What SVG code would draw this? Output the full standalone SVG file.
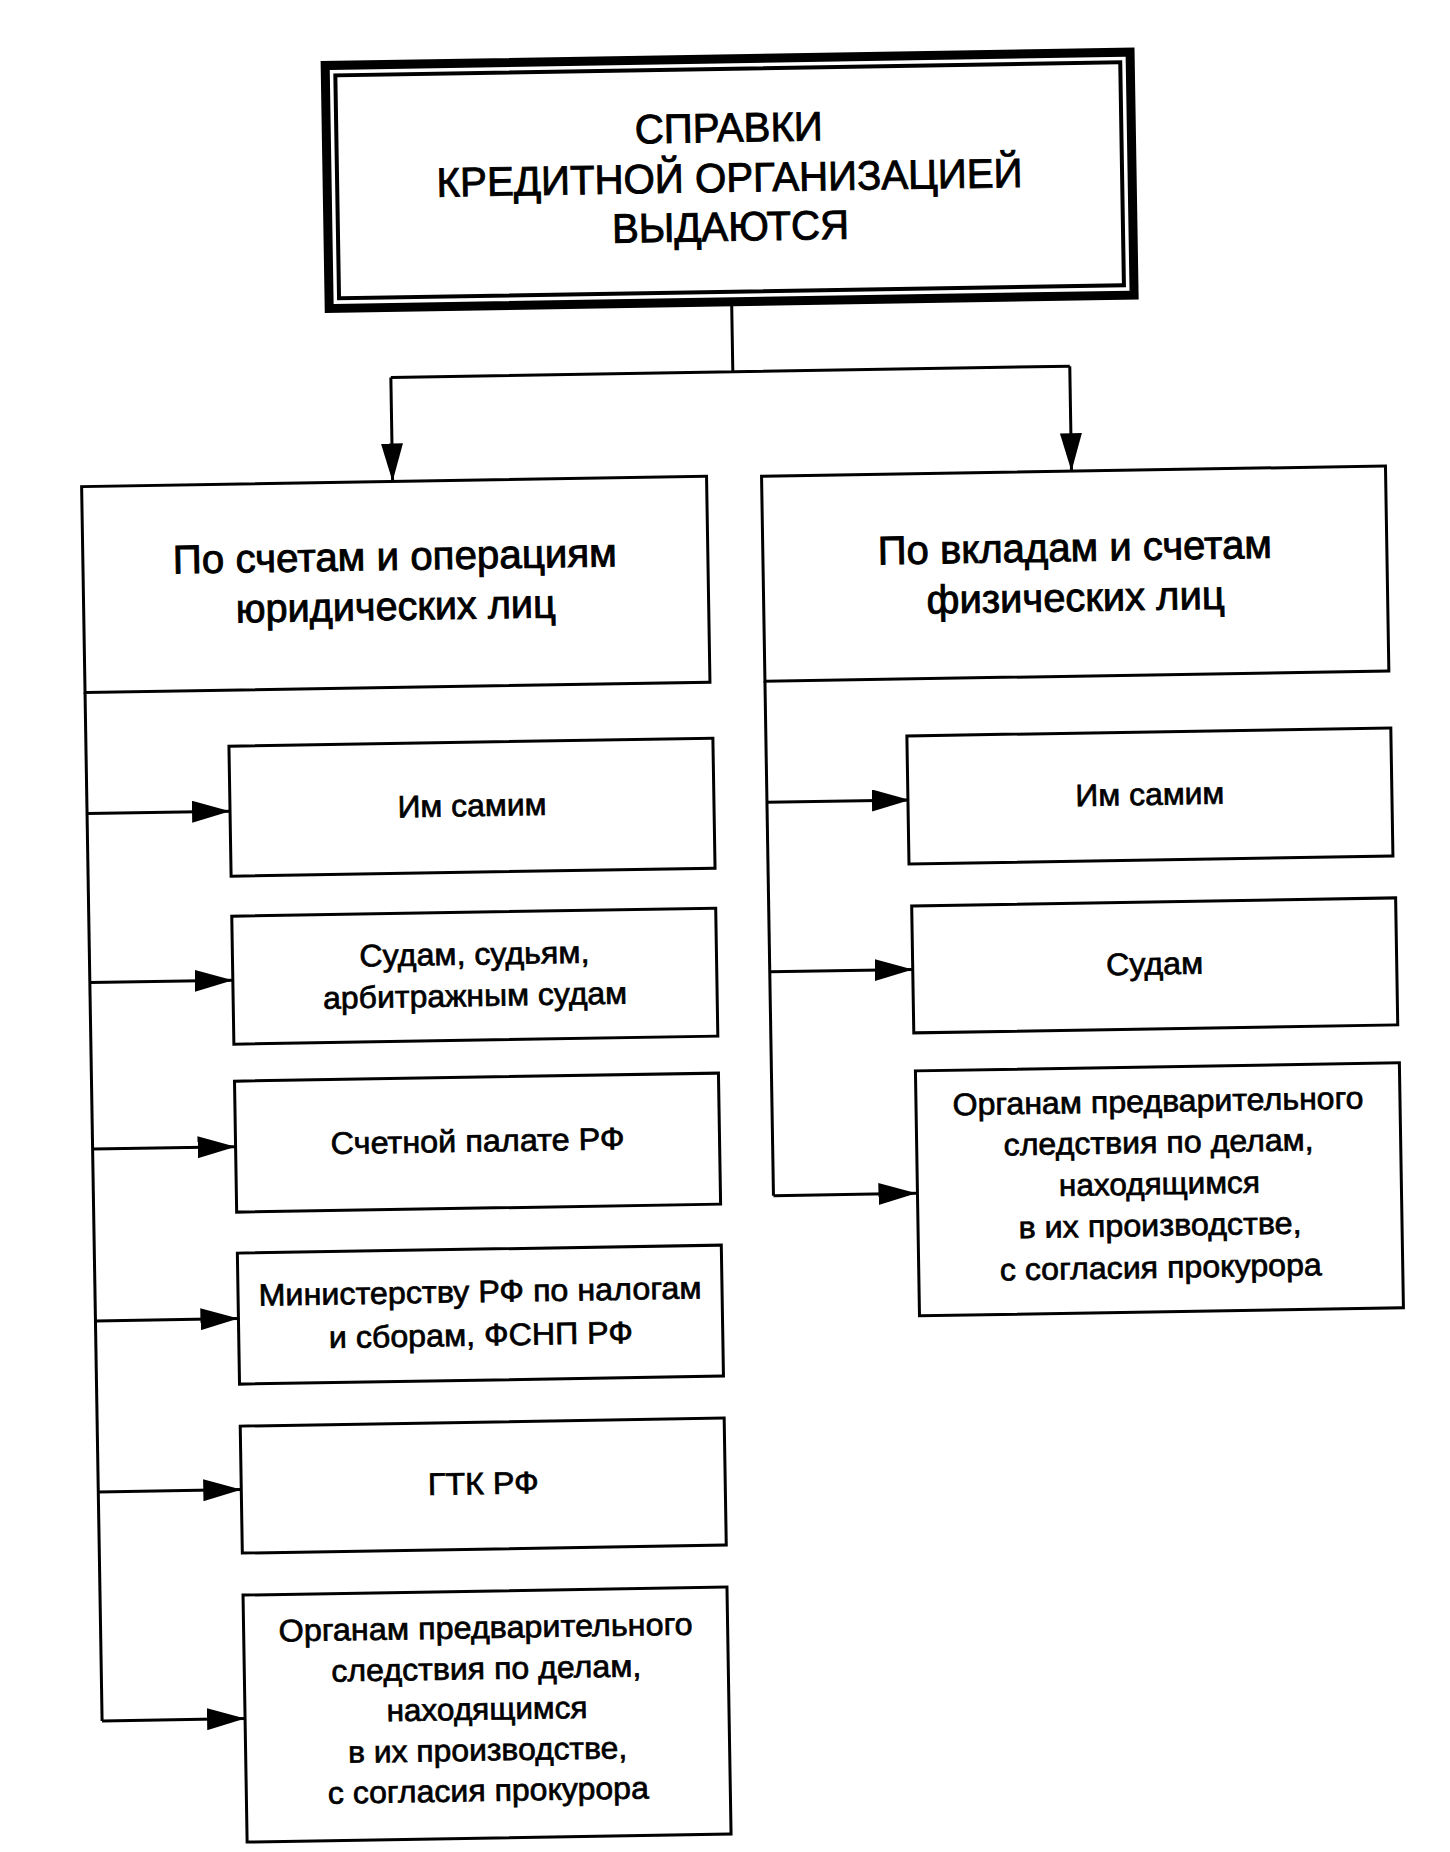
<svg xmlns="http://www.w3.org/2000/svg" width="1450" height="1852" viewBox="0 0 1450 1852">
<defs>
<style>
.box{fill:#fff;stroke:#000;stroke-width:3}
.thick{fill:none;stroke:#000;stroke-width:9}
.thin{fill:none;stroke:#000;stroke-width:4}
.ln{fill:none;stroke:#000;stroke-width:3}
text{font-family:"Liberation Sans",Arial,sans-serif;fill:#000;stroke:#000;text-anchor:middle}
.t0{font-size:41px;stroke-width:0.9}
.t1{font-size:40px;stroke-width:0.9}
.t2{font-size:31px;stroke-width:0.7}
</style>
<marker id="ah" viewBox="0 0 38 22" refX="38" refY="11" markerWidth="38" markerHeight="22" markerUnits="userSpaceOnUse" orient="auto">
<path d="M0,0 L38,11 L0,22 Z" fill="#000"/>
</marker>
</defs>
<rect width="1450" height="1852" fill="#fff"/>
<g transform="rotate(-0.95 725 926)">
<g id="connectors">
<path class="ln" d="M742,306 V372 M400,372 H1079"/>
<path class="ln" d="M400,372 V476" marker-end="url(#ah)"/>
<path class="ln" d="M1079,372 V477" marker-end="url(#ah)"/>
<path class="ln" d="M89,682 V1710.5"/>
<path class="ln" d="M89,803 H232" marker-end="url(#ah)"/>
<path class="ln" d="M89,972 H232" marker-end="url(#ah)"/>
<path class="ln" d="M89,1138.5 H232" marker-end="url(#ah)"/>
<path class="ln" d="M89,1310.5 H232" marker-end="url(#ah)"/>
<path class="ln" d="M89,1481.5 H232" marker-end="url(#ah)"/>
<path class="ln" d="M89,1710.5 H232" marker-end="url(#ah)"/>
<path class="ln" d="M769,682 V1196.5"/>
<path class="ln" d="M769,803 H912" marker-end="url(#ah)"/>
<path class="ln" d="M769,972.5 H912" marker-end="url(#ah)"/>
<path class="ln" d="M769,1196.5 H912" marker-end="url(#ah)"/>
</g>
<g id="root">
<rect class="thick" x="339.5" y="59" width="805" height="243"/>
<rect class="thin" x="349.5" y="69" width="785" height="223"/>
<text class="t0" x="742" y="142" textLength="188" lengthAdjust="spacingAndGlyphs">СПРАВКИ</text>
<text class="t0" x="742" y="192" textLength="586" lengthAdjust="spacingAndGlyphs">КРЕДИТНОЙ ОРГАНИЗАЦИЕЙ</text>
<text class="t0" x="742" y="241" textLength="237" lengthAdjust="spacingAndGlyphs">ВЫДАЮТСЯ</text>
</g>
<g id="legal">
<rect class="box" x="89" y="476" width="625" height="206"/>
<text class="t1" x="401" y="564.5" textLength="444" lengthAdjust="spacingAndGlyphs">По счетам и операциям</text>
<text class="t1" x="401" y="614.5" textLength="320" lengthAdjust="spacingAndGlyphs">юридических лиц</text>
</g>
<g id="individual">
<rect class="box" x="769" y="477" width="624" height="205"/>
<text class="t1" x="1081" y="567" textLength="394" lengthAdjust="spacingAndGlyphs">По вкладам и счетам</text>
<text class="t1" x="1081" y="617" textLength="298" lengthAdjust="spacingAndGlyphs">физических лиц</text>
</g>
<g id="l1">
<rect class="box" x="232" y="738" width="484" height="130"/>
<text class="t2" x="474" y="812" textLength="149" lengthAdjust="spacingAndGlyphs">Им самим</text>
</g>
<g id="l2">
<rect class="box" x="232" y="908" width="484" height="128"/>
<text class="t2" x="474" y="960.5" textLength="230" lengthAdjust="spacingAndGlyphs">Судам, судьям,</text>
<text class="t2" x="474" y="1002" textLength="304" lengthAdjust="spacingAndGlyphs">арбитражным судам</text>
</g>
<g id="l3">
<rect class="box" x="232" y="1073" width="484" height="131"/>
<text class="t2" x="474" y="1147.5" textLength="294" lengthAdjust="spacingAndGlyphs">Счетной палате РФ</text>
</g>
<g id="l4">
<rect class="box" x="232" y="1245" width="484" height="131"/>
<text class="t2" x="474" y="1298" textLength="443" lengthAdjust="spacingAndGlyphs">Министерству РФ по налогам</text>
<text class="t2" x="474" y="1341.5" textLength="304" lengthAdjust="spacingAndGlyphs">и сборам, ФСНП РФ</text>
</g>
<g id="l5">
<rect class="box" x="232" y="1418" width="484" height="127"/>
<text class="t2" x="474" y="1490" textLength="111" lengthAdjust="spacingAndGlyphs">ГТК РФ</text>
</g>
<g id="l6">
<rect class="box" x="232" y="1587" width="484" height="247"/>
<text class="t2" x="474" y="1634" textLength="414" lengthAdjust="spacingAndGlyphs">Органам предварительного</text>
<text class="t2" x="474" y="1675" textLength="310" lengthAdjust="spacingAndGlyphs">следствия по делам,</text>
<text class="t2" x="474" y="1715.5" textLength="201" lengthAdjust="spacingAndGlyphs">находящимся</text>
<text class="t2" x="474" y="1756.5" textLength="279" lengthAdjust="spacingAndGlyphs">в их производстве,</text>
<text class="t2" x="474" y="1797" textLength="321" lengthAdjust="spacingAndGlyphs">с согласия прокурора</text>
</g>
<g id="r1">
<rect class="box" x="910" y="739" width="484" height="128"/>
<text class="t2" x="1152" y="812" textLength="149" lengthAdjust="spacingAndGlyphs">Им самим</text>
</g>
<g id="r2">
<rect class="box" x="912" y="909" width="484" height="127"/>
<text class="t2" x="1154" y="981.5" textLength="97" lengthAdjust="spacingAndGlyphs">Судам</text>
</g>
<g id="r3">
<rect class="box" x="913" y="1074" width="484" height="245"/>
<text class="t2" x="1155" y="1119" textLength="411" lengthAdjust="spacingAndGlyphs">Органам предварительного</text>
<text class="t2" x="1155" y="1160" textLength="310" lengthAdjust="spacingAndGlyphs">следствия по делам,</text>
<text class="t2" x="1155" y="1201.5" textLength="201" lengthAdjust="spacingAndGlyphs">находящимся</text>
<text class="t2" x="1155" y="1243" textLength="283" lengthAdjust="spacingAndGlyphs">в их производстве,</text>
<text class="t2" x="1155" y="1285" textLength="322" lengthAdjust="spacingAndGlyphs">с согласия прокурора</text>
</g>
</g>
</svg>
